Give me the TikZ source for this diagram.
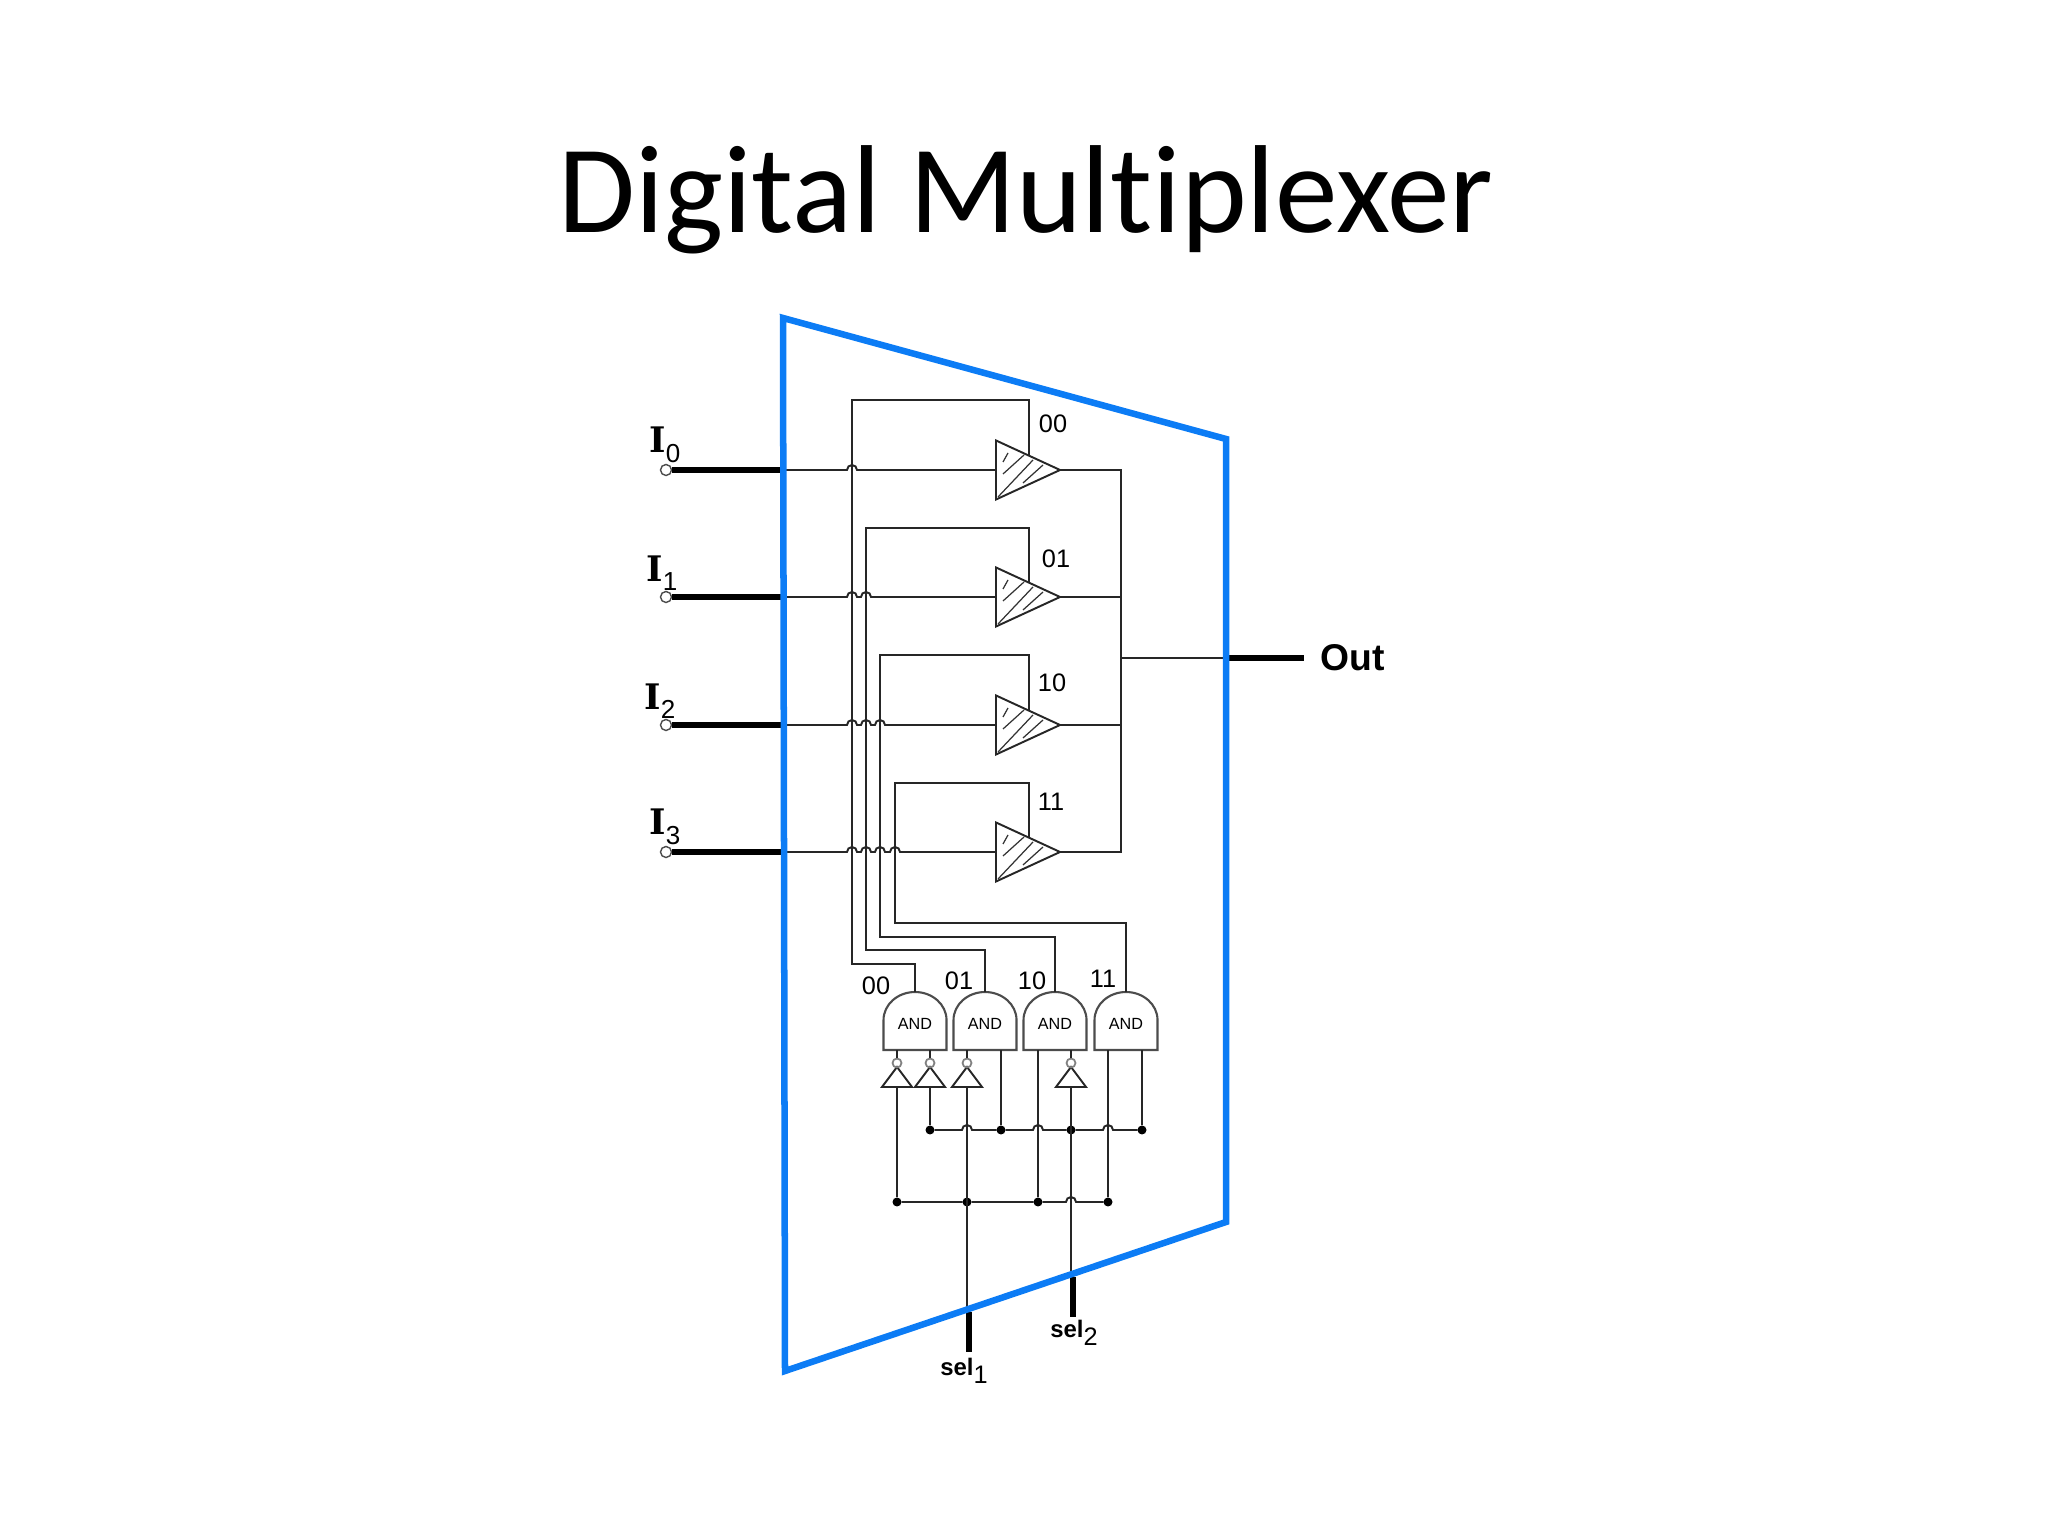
\documentclass[tikz,border=0pt]{standalone}
\usepackage{fontspec}
\setmainfont[Ligatures=NoCommon]{Carlito}
\setsansfont{Liberation Sans}
\newfontfamily\slabfont{DejaVu Serif}
\usetikzlibrary{shapes.geometric}

\begin{document}
\begin{tikzpicture}[x=0.01cm, y=0.01cm,
  wire/.style={line width=0.55pt, color=black!85},
  bus/.style={line width=1.45pt, color=black},
  frame/.style={line width=1.85pt, color=muxblue, line join=miter},
  hatchline/.style={line width=0.35pt, color=black!80},
  gateline/.style={line width=0.6pt, color=black!70},
  buffer/.style={draw, wire, fill=white, isosceles triangle, isosceles triangle stretches, minimum width=0.59cm, minimum height=0.64cm, inner sep=0pt, outer sep=0pt, anchor=lower side,
    path picture={
      \draw[hatchline] ([shift={(7,8)}]path picture bounding box.west) -- ++(5,9);
      \draw[hatchline] ([shift={(7,-4)}]path picture bounding box.west) -- ++(21,19);
      \draw[hatchline] ([shift={(2,-27)}]path picture bounding box.west) -- ++(35,37);
      \draw[hatchline] ([shift={(27,-13)}]path picture bounding box.west) -- ++(20,18);
    }},
  inverter/.style={draw, wire, isosceles triangle, isosceles triangle stretches, shape border rotate=90, minimum width=0.30cm, minimum height=0.20cm, inner sep=0pt, outer sep=0pt, anchor=lower side},
  bubble/.style={draw, circle, line width=0.5pt, color=black!50, minimum size=0.09cm, inner sep=0pt, outer sep=0pt},
  pin/.style={draw=black!70, circle, fill=white, line width=0.4pt, minimum size=0.11cm, inner sep=0pt, outer sep=0pt},
  dot/.style={circle, fill=black, minimum size=0.09cm, inner sep=0pt, outer sep=0pt},
  andgate/.style={minimum width=0.63cm, minimum height=0.58cm, inner sep=0pt, outer sep=0pt, text height=5pt, text depth=0pt, font=\sffamily\fontsize{4.6}{5}\selectfont},
  code/.style={inner sep=0pt, font=\sffamily\fontsize{7.2}{8}\selectfont},
  inlabel/.style={inner sep=0pt, font=\slabfont\bfseries\fontsize{10}{12}\selectfont},
  sellabel/.style={inner sep=0pt, font=\sffamily\bfseries\fontsize{6.8}{8}\selectfont}]
\definecolor{muxblue}{RGB}{12,124,245}
\useasboundingbox (0,0) rectangle (2048,1536);

\node[anchor=base, inner sep=0pt, font=\fontsize{35.6}{42}\selectfont] (title) at (1026,1303) {Digital Multiplexer};

\coordinate (in0) at (783,1066);
\coordinate (in1) at (783,939);
\coordinate (in2) at (783,811);
\coordinate (in3) at (783,684);
\node[pin] (pin0) at (666,1066) {};
\node[pin] (pin1) at (666,939) {};
\node[pin] (pin2) at (666,811) {};
\node[pin] (pin3) at (666,684) {};
\node[inlabel] (lab0) at (665,1091) {I\raisebox{-2.7pt}{\sffamily\mdseries\fontsize{7.4}{8}\selectfont 0}};
\node[inlabel] (lab1) at (662,963) {I\raisebox{-2.7pt}{\sffamily\mdseries\fontsize{7.4}{8}\selectfont 1}};
\node[inlabel] (lab2) at (660,835) {I\raisebox{-2.7pt}{\sffamily\mdseries\fontsize{7.4}{8}\selectfont 2}};
\node[inlabel] (lab3) at (665,709) {I\raisebox{-2.7pt}{\sffamily\mdseries\fontsize{7.4}{8}\selectfont 3}};

\node[buffer] (buf0) at (996,1066) {};
\node[buffer] (buf1) at (996,939) {};
\node[buffer] (buf2) at (996,811) {};
\node[buffer] (buf3) at (996,684) {};
\coordinate (en0) at (1029,1081);
\coordinate (en1) at (1029,954);
\coordinate (en2) at (1029,826);
\coordinate (en3) at (1029,699);
\node[code] (bc0) at (1053,1112) {00};
\node[code] (bc1) at (1056,977) {01};
\node[code] (bc2) at (1052,853) {10};
\node[code] (bc3) at (1051,734) {11};

\draw[bus] (pin0) -- (in0);
\draw[bus] (pin1) -- (in1);
\draw[bus] (pin2) -- (in2);
\draw[bus] (pin3) -- (in3);

\draw[wire] (in0) -- (847,1066) arc[start angle=180, end angle=0, radius=5] -- (buf0.lower side);
\draw[wire] (in1) -- (847,939) arc[start angle=180, end angle=0, radius=5] -- (861,939) arc[start angle=180, end angle=0, radius=5] -- (buf1.lower side);
\draw[wire] (in2) -- (847,811) arc[start angle=180, end angle=0, radius=5] -- (861,811) arc[start angle=180, end angle=0, radius=5] -- (875,811) arc[start angle=180, end angle=0, radius=5] -- (buf2.lower side);
\draw[wire] (in3) -- (847,684) arc[start angle=180, end angle=0, radius=5] -- (861,684) arc[start angle=180, end angle=0, radius=5] -- (875,684) arc[start angle=180, end angle=0, radius=5] -- (890,684) arc[start angle=180, end angle=0, radius=5] -- (buf3.lower side);

\coordinate (join) at (1121,878);
\coordinate (outin) at (1226,878);
\coordinate (outend) at (1304,878);
\node[inner sep=0pt, font=\sffamily\bfseries\fontsize{10.6}{12}\selectfont] (outlab) at (1353,878) {Out};
\draw[wire] (buf0.apex) -| (buf3.apex -| join) -- (buf3.apex);
\draw[wire] (buf1.apex) -- (buf1.apex -| join);
\draw[wire] (buf2.apex) -- (buf2.apex -| join);
\draw[wire] (join) -- (outin);
\draw[bus] (outin) -- (outend);

\node[andgate] (and0) at (915,515) {AND};
\node[andgate] (and1) at (985,515) {AND};
\node[andgate] (and2) at (1055,515) {AND};
\node[andgate] (and3) at (1126,515) {AND};
\draw[gateline] (and0.south west) -- (and0.south east) -- ++(0,30) arc[start angle=0, end angle=180, x radius=31.5, y radius=28] -- cycle;
\draw[gateline] (and1.south west) -- (and1.south east) -- ++(0,30) arc[start angle=0, end angle=180, x radius=31.5, y radius=28] -- cycle;
\draw[gateline] (and2.south west) -- (and2.south east) -- ++(0,30) arc[start angle=0, end angle=180, x radius=31.5, y radius=28] -- cycle;
\draw[gateline] (and3.south west) -- (and3.south east) -- ++(0,30) arc[start angle=0, end angle=180, x radius=31.5, y radius=28] -- cycle;
\node[code] (ac0) at (876,550) {00};
\node[code] (ac1) at (959,555) {01};
\node[code] (ac2) at (1032,555) {10};
\node[code] (ac3) at (1103,557) {11};

\draw[wire] (and0.north) |- (852,572) -- (852,1136) -| (en0);
\draw[wire] (and1.north) |- (866,586) -- (866,1008) -| (en1);
\draw[wire] (and2.north) |- (880,599) -- (880,881) -| (en2);
\draw[wire] (and3.north) |- (895,613) -- (895,753) -| (en3);

\node[inverter] (inv0) at (897,449) {};
\node[inverter] (inv1) at (930,449) {};
\node[inverter] (inv2) at (967,449) {};
\node[inverter] (inv3) at (1071,449) {};
\node[bubble] (bub0) at (897,473) {};
\node[bubble] (bub1) at (930,473) {};
\node[bubble] (bub2) at (967,473) {};
\node[bubble] (bub3) at (1071,473) {};
\draw[wire] (bub0) -- (bub0 |- and0.south);
\draw[wire] (bub1) -- (bub1 |- and0.south);
\draw[wire] (bub2) -- (bub2 |- and1.south);
\draw[wire] (bub3) -- (bub3 |- and2.south);

\node[dot] (up0) at (930,406) {};
\node[dot] (up1) at (1001,406) {};
\node[dot] (up2) at (1071,406) {};
\node[dot] (up3) at (1142,406) {};
\node[dot] (lo0) at (897,334) {};
\node[dot] (lo1) at (967,334) {};
\node[dot] (lo2) at (1038,334) {};
\node[dot] (lo3) at (1108,334) {};

\draw[wire] (up0) -- (962,406) arc[start angle=180, end angle=0, radius=5] -- (up1) -- (1033,406) arc[start angle=180, end angle=0, radius=5] -- (up2) -- (1103,406) arc[start angle=180, end angle=0, radius=5] -- (up3);
\draw[wire] (lo0) -- (lo1) -- (lo2) -- (1066,334) arc[start angle=180, end angle=0, radius=5] -- (lo3);

\coordinate (sel1in) at (967,227);
\coordinate (sel2in) at (1071,262);
\coordinate (sel1top) at (969,224);
\coordinate (sel1end) at (969,184);
\coordinate (sel2top) at (1073,259);
\coordinate (sel2end) at (1073,219);
\draw[wire] (inv0.lower side) -- (lo0);
\draw[wire] (inv1.lower side) -- (up0);
\draw[wire] (inv2.lower side) -- (sel1in);
\draw[wire] (inv3.lower side) -- (sel2in);
\draw[wire] (up1) -- (up1 |- and1.south);
\draw[wire] (lo2) -- (lo2 |- and2.south);
\draw[wire] (lo3) -- (lo3 |- and3.south);
\draw[wire] (up3) -- (up3 |- and3.south);
\draw[bus] (sel1top) -- (sel1end);
\draw[bus] (sel2top) -- (sel2end);
\node[sellabel] (sel1) at (964,165) {sel\raisebox{-2.4pt}{\mdseries\fontsize{7.2}{8}\selectfont 1}};
\node[sellabel] (sel2) at (1074,203) {sel\raisebox{-2.4pt}{\mdseries\fontsize{7.2}{8}\selectfont 2}};

\draw[frame] (783,1218) -- (1226,1097) -- (1226,314) -- (785,165) -- cycle;
\end{tikzpicture}
\end{document}
